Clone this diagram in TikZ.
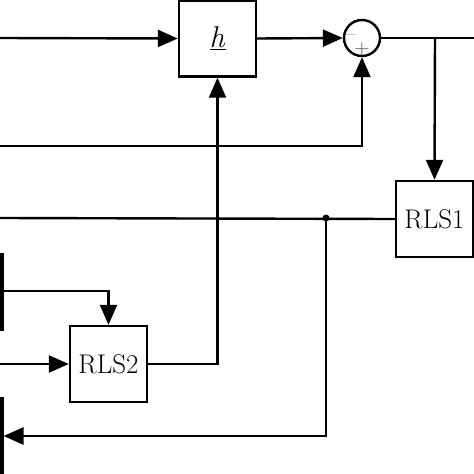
\documentclass[tikz,border=0pt]{standalone}
\usepackage{fontspec}
\usetikzlibrary{arrows.meta}
\begin{document}
\begin{tikzpicture}[x=1pt,y=-1pt,
  wire/.style={line width=2.4pt},
  arr/.style={wire,-{Triangle[length=20pt,width=17pt]}},
  blk/.style={draw,line width=2.4pt,minimum width=77pt,minimum height=76pt,inner sep=0pt,font=\fontsize{27}{30}\selectfont},
  sumc/.style={draw,circle,line width=2.4pt,minimum size=36pt,inner sep=0pt},
  bar/.style={fill=black},
  sgn/.style={font=\fontsize{21}{22}\selectfont,text=black!70,inner sep=0pt}]
\useasboundingbox (0,0) rectangle (474,474);
\node[blk,font=\fontsize{30}{32}\selectfont] (h) at (217.5,38.5) {\underline{\itshape h\kern1pt}};
\node[sumc] (s) at (362,38) {};
\node[sgn] (sm) at (351,38) {\textendash};
\node[sgn] (sp) at (362,49) {+};
\node[blk] (r1) at (434.5,219) {RLS1};
\node[blk] (r2) at (108.5,364) {RLS2};
\fill[bar] (0,253) rectangle (3.5,331);
\fill[bar] (0,397) rectangle (3.5,475);
\coordinate (i1) at (0,38);
\coordinate (i2) at (0,146);
\coordinate (i3) at (0,218);
\coordinate (i4) at (0,364);
\coordinate (o1) at (474,38);
\coordinate (br) at (435,38);
\coordinate (c2) at (362,146);
\coordinate (dt) at (326,218);
\coordinate (c3) at (326,436);
\coordinate (b2) at (3.5,436);
\coordinate (b1) at (3.5,291);
\coordinate (c4) at (108.5,291);
\coordinate (c5) at (217.5,364);
\draw[arr] (i1) -- (h.west);
\draw[arr] (h.east) -- (s.west);
\draw[wire] (s.east) -- (o1);
\draw[arr] (br) -- (r1.north);
\draw[arr] (i2) -- (c2) -- (s.south);
\draw[wire] (i3) -- (r1.west);
\fill (dt) circle (3.5pt);
\draw[arr] (dt) -- (c3) -- (b2);
\draw[arr] (b1) -- (c4) -- (r2.north);
\draw[arr] (i4) -- (r2.west);
\draw[arr] (r2.east) -- (c5) -- (h.south);
\end{tikzpicture}
\end{document}
